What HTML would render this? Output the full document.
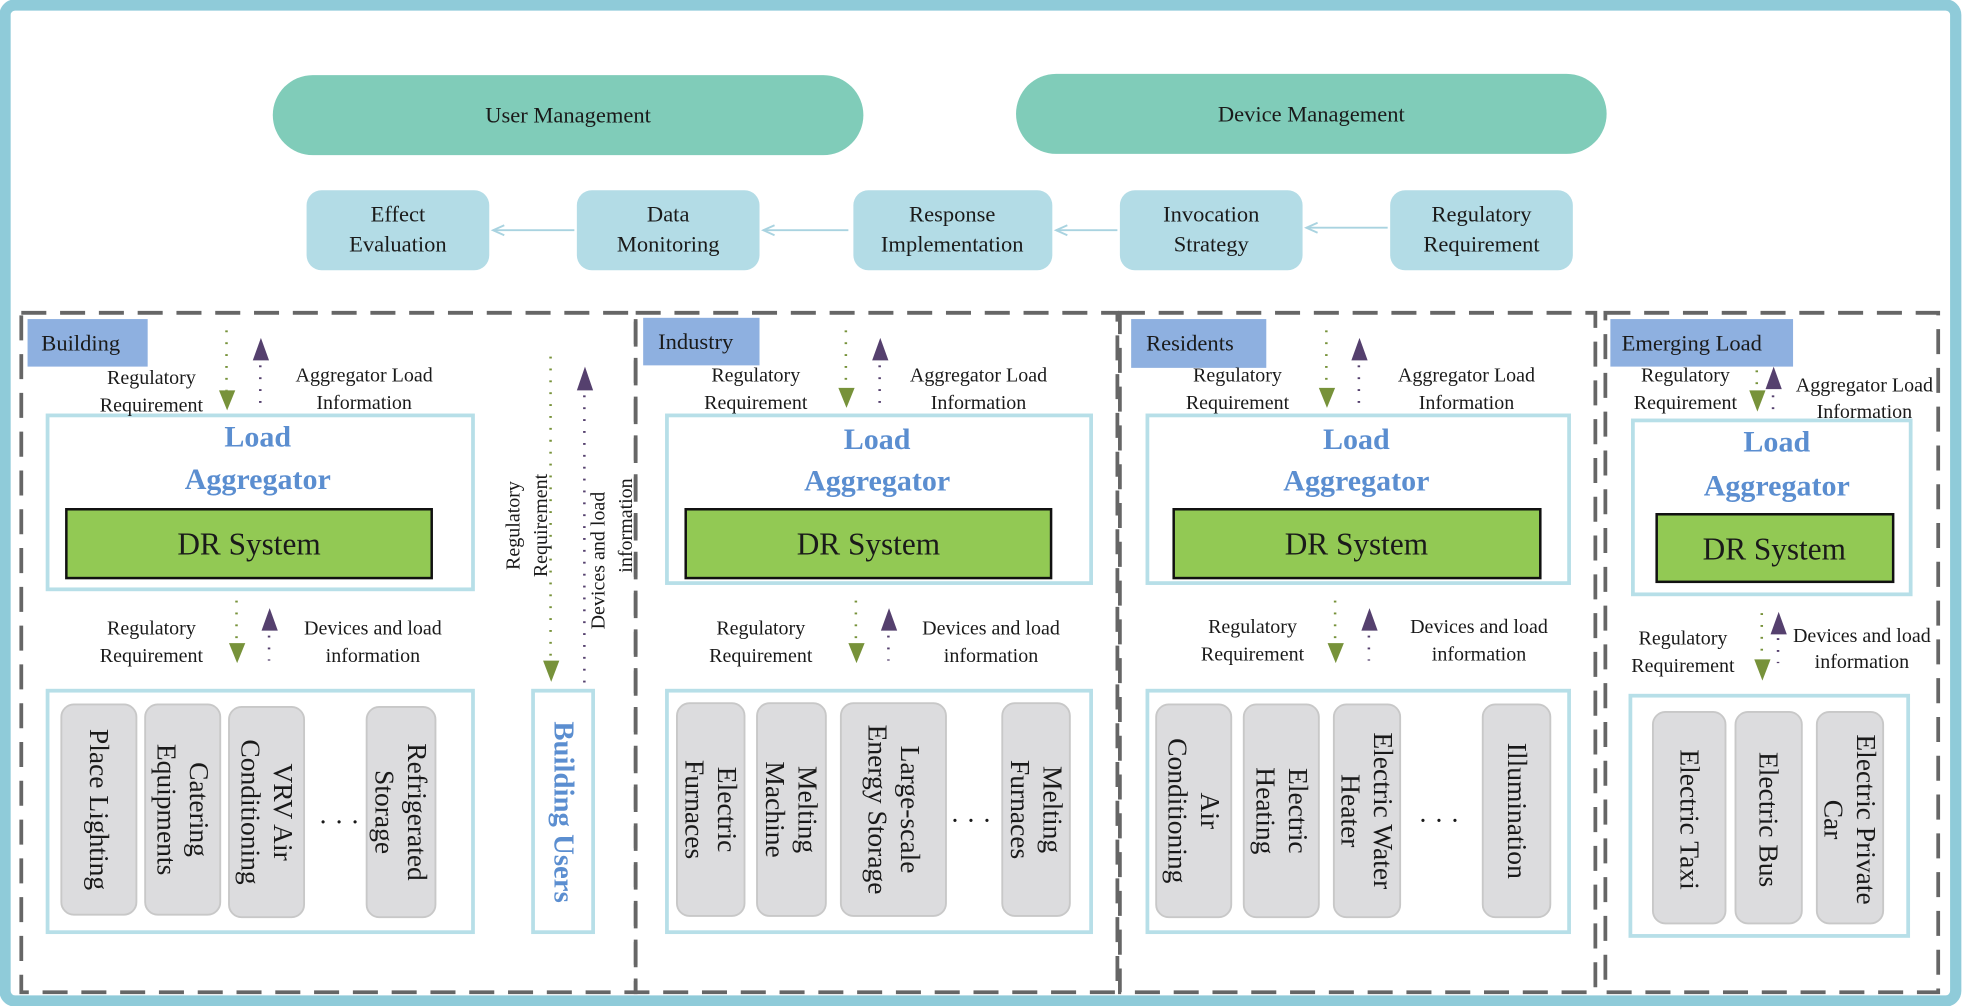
<!DOCTYPE html>
<html><head><meta charset="utf-8"><style>
html,body{margin:0;padding:0;background:#fff;}
svg{display:block;}
text{font-family:"Liberation Serif",serif;fill:#1a1a1a;}
</style></head><body>
<svg width="1962" height="1006" viewBox="0 0 1568 804" xmlns="http://www.w3.org/2000/svg">
<defs>
<marker id="la" markerWidth="12" markerHeight="12" refX="10" refY="5" orient="auto" markerUnits="userSpaceOnUse"><path d="M1,1 L10,5 L1,9" fill="none" stroke="#a9d3e0" stroke-width="1.5"/></marker>
</defs>
<rect x="4" y="4" width="1559" height="796" rx="8" fill="#fff" stroke="#8fcbd9" stroke-width="9"/>

<rect x="218" y="60" width="472" height="64" rx="32" fill="#80ccb9"/>
<text x="454" y="98" font-size="18" text-anchor="middle">User Management</text>
<rect x="812" y="59" width="472" height="64" rx="32" fill="#80ccb9"/>
<text x="1048" y="97" font-size="18" text-anchor="middle">Device Management</text>

<g font-size="18" text-anchor="middle">
<rect x="245" y="152" width="146" height="64" rx="12" fill="#b3dce6"/>
<text x="318" y="177">Effect</text><text x="318" y="201">Evaluation</text>
<rect x="461" y="152" width="146" height="64" rx="12" fill="#b3dce6"/>
<text x="534" y="177">Data</text><text x="534" y="201">Monitoring</text>
<rect x="682" y="152" width="159" height="64" rx="12" fill="#b3dce6"/>
<text x="761" y="177">Response</text><text x="761" y="201">Implementation</text>
<rect x="895" y="152" width="146" height="64" rx="12" fill="#b3dce6"/>
<text x="968" y="177">Invocation</text><text x="968" y="201">Strategy</text>
<rect x="1111" y="152" width="146" height="64" rx="12" fill="#b3dce6"/>
<text x="1184" y="177">Regulatory</text><text x="1184" y="201">Requirement</text>
</g>
<g stroke="#a9d3e0" stroke-width="1.5" marker-end="url(#la)">
<line x1="459" y1="184" x2="394" y2="184"/>
<line x1="678" y1="184" x2="610" y2="184"/>
<line x1="893" y1="184" x2="844" y2="184"/>
<line x1="1109" y1="182" x2="1044" y2="182"/>
</g>

<g fill="none" stroke="#666" stroke-width="3" stroke-dasharray="20,11">
<rect x="17" y="250" width="491" height="543"/>
<rect x="508" y="250" width="385" height="543"/>
<rect x="895" y="250" width="380" height="543"/>
<rect x="1283" y="250" width="266" height="543"/>
</g>

<g font-size="18">
<rect x="22" y="255" width="96" height="38" fill="#8eb0e0"/><text x="33" y="280">Building</text>
<rect x="514" y="254" width="93" height="38" fill="#8eb0e0"/><text x="526" y="279">Industry</text>
<rect x="904" y="255" width="108" height="39" fill="#8eb0e0"/><text x="916" y="280">Residents</text>
<rect x="1287" y="255" width="146" height="38" fill="#8eb0e0"/><text x="1296" y="280">Emerging Load</text>
</g>

<g fill="none" stroke="#b7dfe8" stroke-width="3">
<rect x="38" y="332" width="340" height="139"/>
<rect x="533" y="332" width="339" height="134"/>
<rect x="917" y="332" width="337" height="134"/>
<rect x="1305" y="336" width="222" height="139"/>
<rect x="38" y="552" width="340" height="193"/>
<rect x="426" y="552" width="48" height="193"/>
<rect x="533" y="552" width="339" height="193"/>
<rect x="917" y="552" width="337" height="193"/>
<rect x="1303" y="556" width="222" height="192"/>
</g>
<g font-size="24" font-weight="bold" text-anchor="middle">
<text x="206" y="357" style="fill:#5b8ed0">Load</text><text x="206" y="391" style="fill:#5b8ed0">Aggregator</text>
<text x="701" y="359" style="fill:#5b8ed0">Load</text><text x="701" y="392" style="fill:#5b8ed0">Aggregator</text>
<text x="1084" y="359" style="fill:#5b8ed0">Load</text><text x="1084" y="392" style="fill:#5b8ed0">Aggregator</text>
<text x="1420" y="361" style="fill:#5b8ed0">Load</text><text x="1420" y="396" style="fill:#5b8ed0">Aggregator</text>
</g>
<g fill="#92c954" stroke="#111" stroke-width="2">
<rect x="53" y="407" width="292" height="55"/>
<rect x="548" y="407" width="292" height="55"/>
<rect x="938" y="407" width="293" height="55"/>
<rect x="1324" y="411" width="189" height="54"/>
</g>
<g font-size="25" text-anchor="middle">
<text x="199" y="443">DR System</text>
<text x="694" y="443">DR System</text>
<text x="1084" y="443">DR System</text>
<text x="1418" y="447">DR System</text>
</g>

<g stroke-width="2" stroke-dasharray="1.5,8" fill="none">
<g stroke="#77923a">
<line x1="181" y1="264" x2="181" y2="312"/><line x1="189" y1="480" x2="189" y2="514"/>
<line x1="440" y1="285" x2="440" y2="528"/>
<line x1="676" y1="264" x2="676" y2="310"/><line x1="684" y1="480" x2="684" y2="514"/>
<line x1="1060" y1="264" x2="1060" y2="310"/><line x1="1067" y1="480" x2="1067" y2="514"/>
<line x1="1404" y1="296" x2="1404" y2="312"/><line x1="1408" y1="490" x2="1408" y2="520"/>
</g>
<g stroke="#55406e">
<line x1="208" y1="292" x2="208" y2="326"/><line x1="215" y1="508" x2="215" y2="528"/>
<line x1="467" y1="316" x2="467" y2="550"/>
<line x1="703" y1="292" x2="703" y2="326"/><line x1="710" y1="508" x2="710" y2="528"/>
<line x1="1086" y1="292" x2="1086" y2="326"/><line x1="1094" y1="508" x2="1094" y2="528"/>
<line x1="1417" y1="316" x2="1417" y2="334"/><line x1="1421" y1="510" x2="1421" y2="530"/>
</g>
</g>
<g fill="#77923a">
<path d="M175,312 h13 l-6.5,16z"/><path d="M183,514 h13 l-6.5,16z"/><path d="M434,528 h13 l-6.5,17z"/>
<path d="M670,310 h13 l-6.5,16z"/><path d="M678,514 h13 l-6.5,16z"/>
<path d="M1054,310 h13 l-6.5,16z"/><path d="M1061,514 h13 l-6.5,16z"/>
<path d="M1398,312 h13 l-6.5,17z"/><path d="M1402,527 h13 l-6.5,17z"/>
</g>
<g fill="#55406e">
<path d="M202,288 h13 l-6.5,-18z"/><path d="M209,504 h13 l-6.5,-18z"/><path d="M461,312 h13 l-6.5,-19z"/>
<path d="M697,288 h13 l-6.5,-18z"/><path d="M704,504 h13 l-6.5,-18z"/>
<path d="M1080,288 h13 l-6.5,-18z"/><path d="M1088,504 h13 l-6.5,-18z"/>
<path d="M1411,311 h13 l-6.5,-18z"/><path d="M1415,507 h13 l-6.5,-18z"/>
</g>

<g font-size="16" text-anchor="middle">
<text x="121" y="307">Regulatory</text><text x="121" y="329">Requirement</text>
<text x="291" y="305">Aggregator Load</text><text x="291" y="327">Information</text>
<text x="121" y="507">Regulatory</text><text x="121" y="529">Requirement</text>
<text x="298" y="507">Devices and load</text><text x="298" y="529">information</text>

<text x="604" y="305">Regulatory</text><text x="604" y="327">Requirement</text>
<text x="782" y="305">Aggregator Load</text><text x="782" y="327">Information</text>
<text x="608" y="507">Regulatory</text><text x="608" y="529">Requirement</text>
<text x="792" y="507">Devices and load</text><text x="792" y="529">information</text>

<text x="989" y="305">Regulatory</text><text x="989" y="327">Requirement</text>
<text x="1172" y="305">Aggregator Load</text><text x="1172" y="327">Information</text>
<text x="1001" y="506">Regulatory</text><text x="1001" y="528">Requirement</text>
<text x="1182" y="506">Devices and load</text><text x="1182" y="528">information</text>

<text x="1347" y="305">Regulatory</text><text x="1347" y="327">Requirement</text>
<text x="1490" y="313">Aggregator Load</text><text x="1490" y="334">Information</text>
<text x="1345" y="515">Regulatory</text><text x="1345" y="537">Requirement</text>
<text x="1488" y="513">Devices and load</text><text x="1488" y="534">information</text>

<text transform="translate(415,420) rotate(-90)">Regulatory</text>
<text transform="translate(437,420) rotate(-90)">Requirement</text>
<text transform="translate(483,448) rotate(-90)">Devices and load</text>
<text transform="translate(505,420) rotate(-90)">information</text>
</g>

<g fill="#dcdcde" stroke="#c8c8c8" stroke-width="1.5">
<rect x="49" y="563" width="60" height="168" rx="10"/><rect x="116" y="563" width="60" height="168" rx="10"/>
<rect x="183" y="565" width="60" height="168" rx="10"/><rect x="293" y="565" width="55" height="168" rx="10"/>
<rect x="541" y="562" width="54" height="170" rx="10"/><rect x="605" y="562" width="55" height="170" rx="10"/>
<rect x="672" y="562" width="84" height="170" rx="10"/><rect x="801" y="562" width="54" height="170" rx="10"/>
<rect x="924" y="563" width="60" height="170" rx="10"/><rect x="994" y="563" width="60" height="170" rx="10"/>
<rect x="1066" y="563" width="53" height="170" rx="10"/><rect x="1185" y="563" width="54" height="170" rx="10"/>
<rect x="1321" y="569" width="58" height="169" rx="10"/><rect x="1387" y="569" width="53" height="169" rx="10"/>
<rect x="1452" y="569" width="53" height="169" rx="10"/>
</g>
<g font-size="22" text-anchor="middle">
<text transform="translate(79,647) rotate(90)" y="7">Place Lighting</text>
<text transform="translate(146,647) rotate(90)"><tspan x="0" y="-6">Catering</tspan><tspan x="0" y="20">Equipments</tspan></text>
<text transform="translate(213,649) rotate(90)"><tspan x="0" y="-6">VRV Air</tspan><tspan x="0" y="20">Conditioning</tspan></text>
<text transform="translate(320,649) rotate(90)"><tspan x="0" y="-6">Refrigerated</tspan><tspan x="0" y="20">Storage</tspan></text>
<text x="271" y="664">· · ·</text>

<text transform="translate(568,647) rotate(90)"><tspan x="0" y="-6">Electric</tspan><tspan x="0" y="20">Furnaces</tspan></text>
<text transform="translate(632,647) rotate(90)"><tspan x="0" y="-6">Melting</tspan><tspan x="0" y="20">Machine</tspan></text>
<text transform="translate(714,647) rotate(90)"><tspan x="0" y="-6">Large-scale</tspan><tspan x="0" y="20">Energy Storage</tspan></text>
<text transform="translate(828,647) rotate(90)"><tspan x="0" y="-6">Melting</tspan><tspan x="0" y="20">Furnaces</tspan></text>
<text x="776" y="663">· · ·</text>

<text transform="translate(954,648) rotate(90)"><tspan x="0" y="-6">Air</tspan><tspan x="0" y="20">Conditioning</tspan></text>
<text transform="translate(1024,648) rotate(90)"><tspan x="0" y="-6">Electric</tspan><tspan x="0" y="20">Heating</tspan></text>
<text transform="translate(1092,648) rotate(90)"><tspan x="0" y="-6">Electric Water</tspan><tspan x="0" y="20">Heater</tspan></text>
<text transform="translate(1212,648) rotate(90)" y="7">Illumination</text>
<text x="1150" y="663">· · ·</text>

<text transform="translate(1350,655) rotate(90)" y="7">Electric Taxi</text>
<text transform="translate(1413,655) rotate(90)" y="7">Electric Bus</text>
<text transform="translate(1478,655) rotate(90)"><tspan x="0" y="-6">Electric Private</tspan><tspan x="0" y="20">Car</tspan></text>
</g>
<text transform="translate(451,649) rotate(90)" y="8" font-size="23" font-weight="bold" text-anchor="middle" style="fill:#5b8ed0">Building Users</text>
</svg>
</body></html>
